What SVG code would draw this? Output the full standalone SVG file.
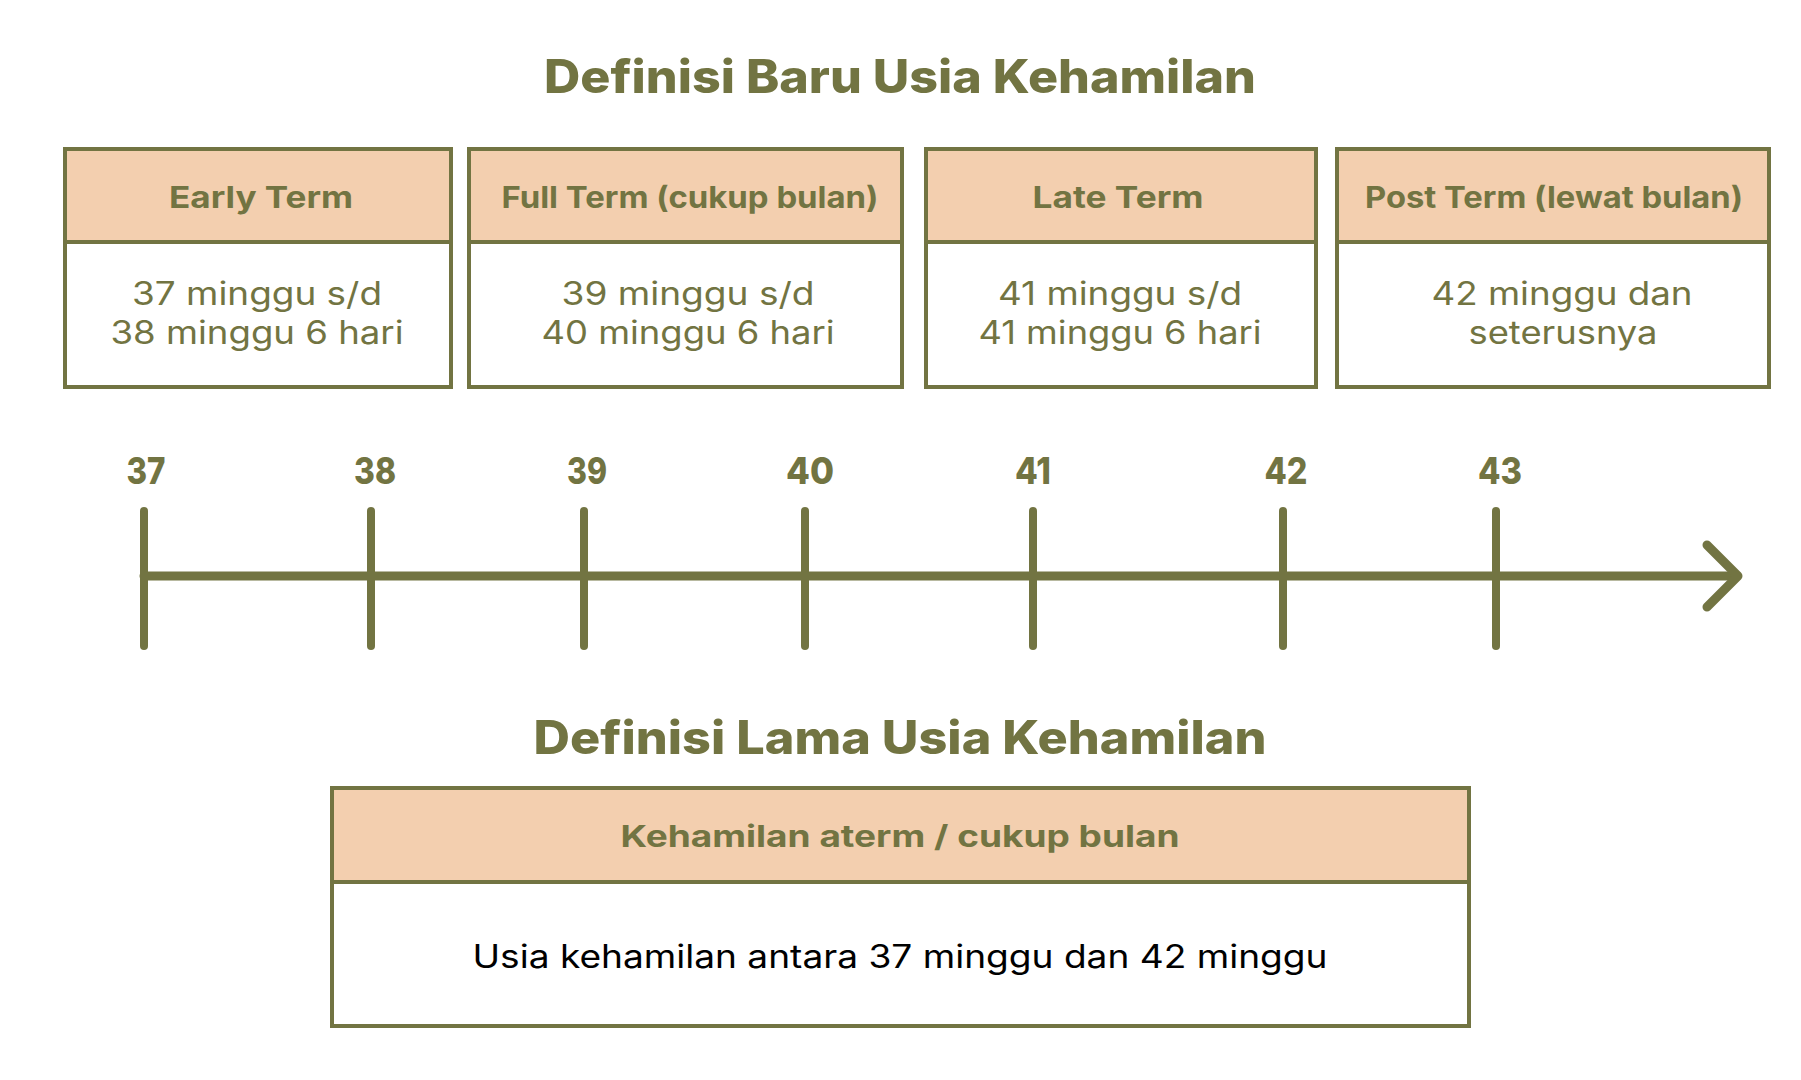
<svg xmlns="http://www.w3.org/2000/svg" width="1801" height="1080" viewBox="0 0 1801 1080">
<style>
.t{font-family:Inter,"Noto Sans",sans-serif;fill:#727442;text-anchor:middle}
.title{font-size:46px;font-weight:800}
.hd{font-size:30px;font-weight:700}
.bd{font-size:32px;font-weight:400}
.num{font-size:37px;font-weight:800}
.box{fill:#ffffff;stroke:#727442;stroke-width:4}
.head{fill:#F3CFAF}
.div{stroke:#727442;stroke-width:4}
.tick{stroke:#727442;stroke-width:8;stroke-linecap:round;fill:none}
</style>
<rect width="1801" height="1080" fill="#ffffff"/>
<text class="t title" x="900" y="93" textLength="712" lengthAdjust="spacingAndGlyphs">Definisi Baru Usia Kehamilan</text>

<g id="early-term">
<rect class="box" x="65" y="149" width="386" height="238"/>
<rect class="head" x="67" y="151" width="382" height="91"/>
<line class="div" x1="65" y1="242" x2="451" y2="242"/>
<text class="t hd" x="261" y="208" textLength="184" lengthAdjust="spacingAndGlyphs">Early Term</text>
<text class="t bd" x="257" y="305" textLength="250" lengthAdjust="spacingAndGlyphs">37 minggu s/d</text>
<text class="t bd" x="257" y="344" textLength="293" lengthAdjust="spacingAndGlyphs">38 minggu 6 hari</text>
</g>

<g id="full-term">
<rect class="box" x="469" y="149" width="433" height="238"/>
<rect class="head" x="471" y="151" width="429" height="91"/>
<line class="div" x1="469" y1="242" x2="902" y2="242"/>
<text class="t hd" x="690" y="208" textLength="377" lengthAdjust="spacingAndGlyphs">Full Term (cukup bulan)</text>
<text class="t bd" x="688" y="305" textLength="253" lengthAdjust="spacingAndGlyphs">39 minggu s/d</text>
<text class="t bd" x="688" y="344" textLength="293" lengthAdjust="spacingAndGlyphs">40 minggu 6 hari</text>
</g>

<g id="late-term">
<rect class="box" x="926" y="149" width="390" height="238"/>
<rect class="head" x="928" y="151" width="386" height="91"/>
<line class="div" x1="926" y1="242" x2="1316" y2="242"/>
<text class="t hd" x="1118" y="208" textLength="171" lengthAdjust="spacingAndGlyphs">Late Term</text>
<text class="t bd" x="1120" y="305" textLength="244" lengthAdjust="spacingAndGlyphs">41 minggu s/d</text>
<text class="t bd" x="1120" y="344" textLength="283" lengthAdjust="spacingAndGlyphs">41 minggu 6 hari</text>
</g>

<g id="post-term">
<rect class="box" x="1337" y="149" width="432" height="238"/>
<rect class="head" x="1339" y="151" width="428" height="91"/>
<line class="div" x1="1337" y1="242" x2="1769" y2="242"/>
<text class="t hd" x="1554" y="208" textLength="378" lengthAdjust="spacingAndGlyphs">Post Term (lewat bulan)</text>
<text class="t bd" x="1562" y="305" textLength="261" lengthAdjust="spacingAndGlyphs">42 minggu dan</text>
<text class="t bd" x="1563" y="344" textLength="189" lengthAdjust="spacingAndGlyphs">seterusnya</text>
</g>

<g id="timeline">
<line class="tick" x1="144" y1="576" x2="1737" y2="576" style="stroke-width:9"/>
<polyline class="tick" points="1707,545 1738,576 1707,607" style="stroke-width:9;stroke-linejoin:round"/>
<line class="tick" x1="144" y1="511" x2="144" y2="646"/>
<line class="tick" x1="371" y1="511" x2="371" y2="646"/>
<line class="tick" x1="584" y1="511" x2="584" y2="646"/>
<line class="tick" x1="805" y1="511" x2="805" y2="646"/>
<line class="tick" x1="1033" y1="511" x2="1033" y2="646"/>
<line class="tick" x1="1283" y1="511" x2="1283" y2="646"/>
<line class="tick" x1="1496" y1="511" x2="1496" y2="646"/>
<text class="t num" x="146" y="484" textLength="39" lengthAdjust="spacingAndGlyphs">37</text>
<text class="t num" x="375" y="484" textLength="42" lengthAdjust="spacingAndGlyphs">38</text>
<text class="t num" x="587" y="484" textLength="40" lengthAdjust="spacingAndGlyphs">39</text>
<text class="t num" x="810" y="484" textLength="48" lengthAdjust="spacingAndGlyphs">40</text>
<text class="t num" x="1033" y="484" textLength="36" lengthAdjust="spacingAndGlyphs">41</text>
<text class="t num" x="1286" y="484" textLength="43" lengthAdjust="spacingAndGlyphs">42</text>
<text class="t num" x="1500" y="484" textLength="44" lengthAdjust="spacingAndGlyphs">43</text>
</g>

<text class="t title" x="900" y="754" textLength="733" lengthAdjust="spacingAndGlyphs">Definisi Lama Usia Kehamilan</text>

<g id="aterm">
<rect class="box" x="332" y="788" width="1137" height="238"/>
<rect class="head" x="334" y="790" width="1133" height="92"/>
<line class="div" x1="332" y1="882" x2="1469" y2="882"/>
<text class="t hd" x="900" y="847" textLength="559" lengthAdjust="spacingAndGlyphs">Kehamilan aterm / cukup bulan</text>
<text class="t bd" x="900" y="968" textLength="855" lengthAdjust="spacingAndGlyphs" style="fill:#000000">Usia kehamilan antara 37 minggu dan 42 minggu</text>
</g>
</svg>
